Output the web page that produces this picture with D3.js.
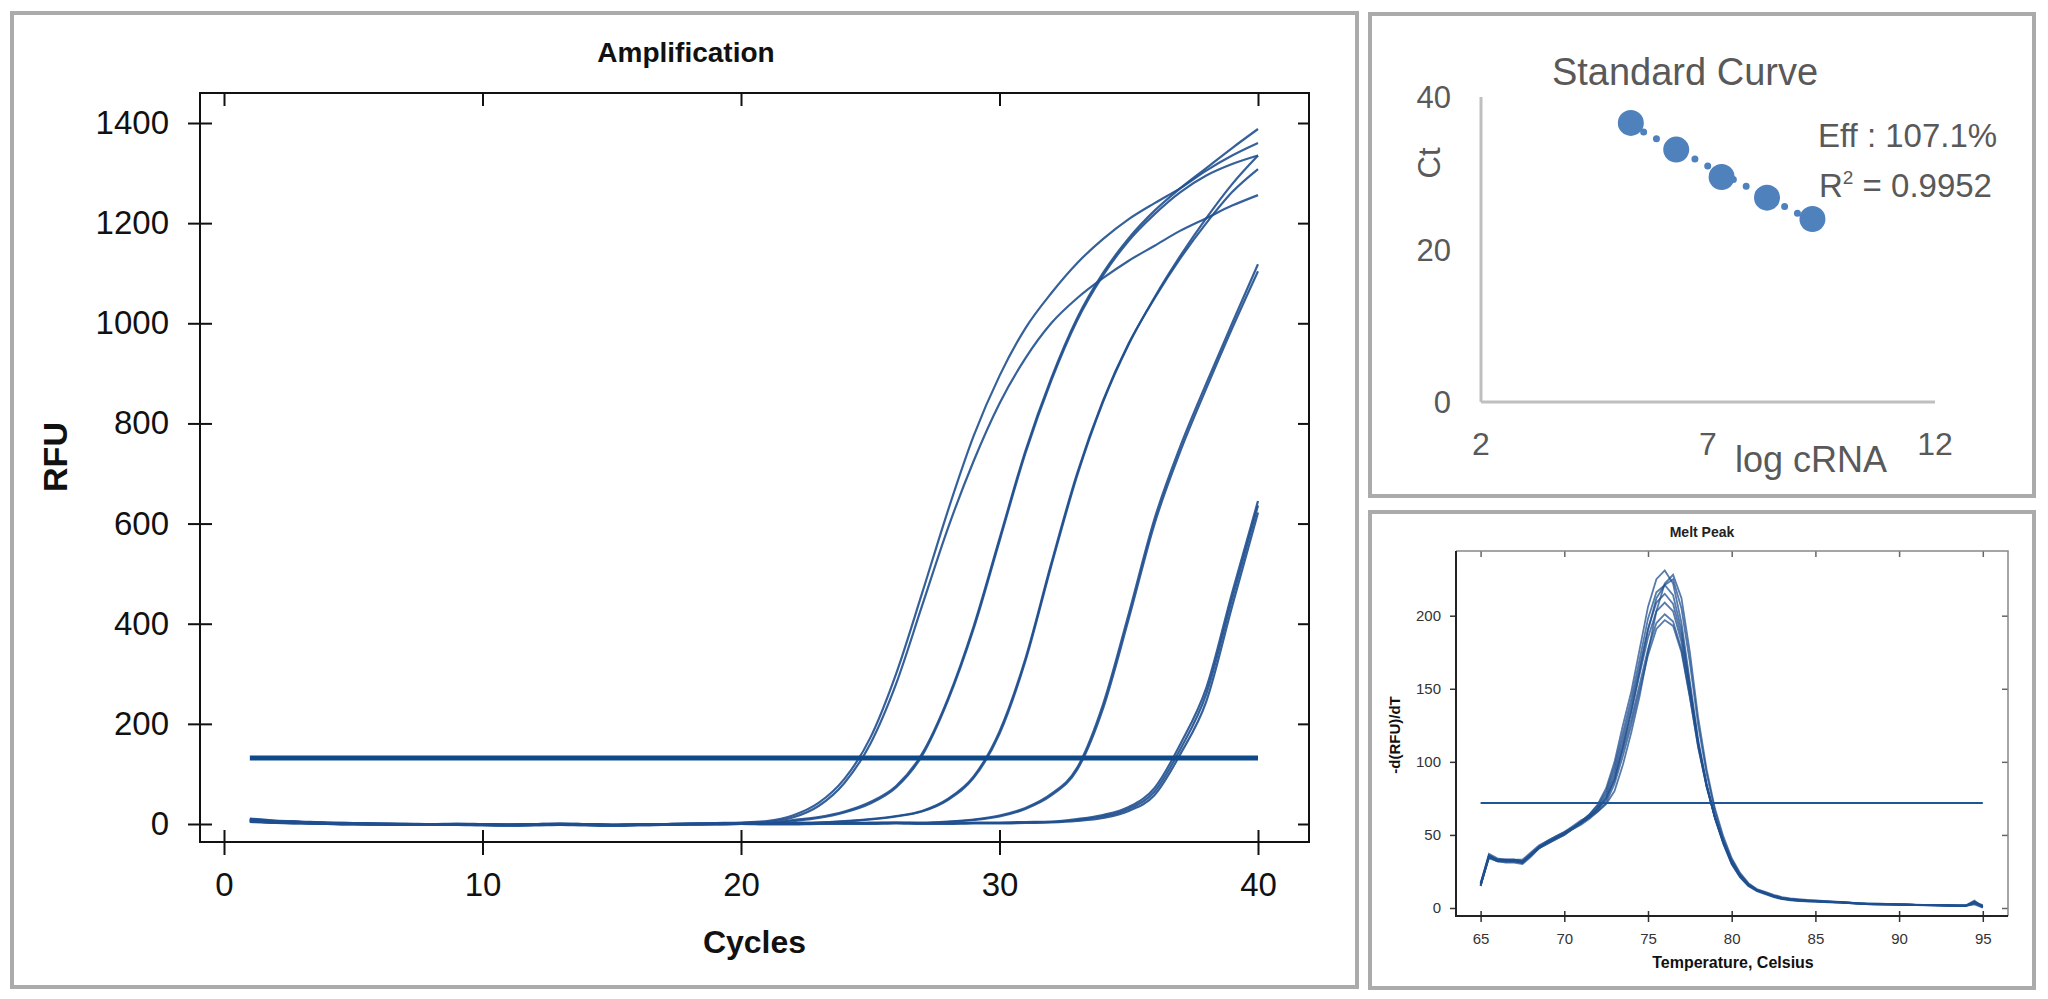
<!DOCTYPE html>
<html>
<head>
<meta charset="utf-8">
<script src="https://cdn.jsdelivr.net/npm/d3@7"></script>
<style>
    html, body { margin: 0; padding: 0; background: #fff; }
    svg { display: block; }
    text { font-family: "Liberation Sans", Arial, sans-serif; }
</style>
</head>
<body>
<svg id="chart" width="2048" height="999"></svg>
<script>
'use strict';

// ---- amplification (RFU per cycle) ----
const cycles = [1, 2, 3, 4, 5, 6, 7, 8, 9, 10, 11, 12, 13, 14, 15, 16, 17, 18, 19, 20,
    21, 22, 23, 24, 25, 26, 27, 28, 29, 30, 31, 32, 33, 34, 35, 36, 37, 38, 39, 40];
const ampD1a = [9, 5, 3, 2, 1, 0, -1, -1, 0, -1, -2, -1, 0, -1, -2, -1, 0, 1, 2, 3,
    6, 17, 42, 90, 172, 300, 460, 625, 775, 895, 990, 1060, 1120, 1168, 1208, 1240, 1270, 1305, 1335, 1360];
const ampD1b = [6, 4, 2, 1, 0, -1, -2, -1, -1, -2, -3, -2, -1, -2, -3, -2, -1, 0, 1, 2,
    4, 13, 36, 82, 160, 280, 435, 590, 725, 840, 930, 1000, 1050, 1090, 1125, 1155, 1185, 1210, 1235, 1256];
const ampD2a = [10, 6, 4, 3, 2, 1, 0, 0, 1, 0, -1, 0, 1, 0, -1, 0, 0, 1, 1, 2,
    2, 8, 14, 25, 44, 76, 140, 250, 395, 570, 745, 890, 1010, 1100, 1170, 1225, 1270, 1310, 1350, 1388];
const ampD2b = [5, 3, 2, 1, 0, -1, -1, -2, -1, -2, -3, -2, -1, -2, -3, -2, -1, -1, 0, 1,
    1, 6, 12, 23, 41, 73, 136, 246, 390, 565, 740, 885, 1005, 1095, 1165, 1218, 1262, 1295, 1318, 1335];
const ampD3a = [7, 4, 3, 2, 1, 0, 0, -1, -1, -1, -2, -2, -1, -1, -2, -2, -1, 0, 0, 1,
    1, 2, 3, 6, 10, 16, 26, 50, 95, 185, 330, 520, 700, 845, 960, 1050, 1130, 1200, 1262, 1308];
const ampD3b = [4, 2, 1, 0, -1, -1, -2, -2, -2, -3, -3, -2, -2, -3, -3, -2, -2, -1, -1, 0,
    1, 2, 3, 5, 9, 15, 25, 48, 92, 180, 325, 515, 695, 842, 958, 1052, 1135, 1210, 1278, 1335];
const ampD4a = [8, 5, 3, 2, 1, 1, 0, 0, -1, 0, -1, -1, 0, -1, -2, -1, -1, 0, 1, 1,
    1, 1, 2, 2, 3, 3, 3, 5, 9, 17, 32, 60, 112, 238, 420, 610, 755, 880, 1000, 1118];
const ampD4b = [5, 3, 1, 0, -1, -1, -2, -2, -1, -2, -2, -3, -2, -2, -3, -2, -1, -1, 0, 0,
    0, 1, 1, 2, 2, 2, 2, 4, 8, 15, 30, 57, 108, 230, 410, 600, 745, 870, 990, 1104];
const ampD5a = [9, 6, 4, 2, 1, 0, 0, 0, -1, -1, -1, 0, 0, -1, -2, -2, -1, 0, 0, 1,
    0, 0, 1, 1, 1, 2, 1, 1, 2, 2, 3, 4, 8, 15, 30, 65, 150, 260, 450, 636];
const ampD5b = [6, 3, 2, 1, 0, -1, -1, -2, -2, -2, -3, -2, -1, -2, -3, -3, -2, -1, -1, 0,
    -1, -1, 0, 0, 0, 1, 0, 0, 1, 1, 2, 3, 6, 12, 26, 58, 140, 245, 435, 622];
const ampD5c = [11, 7, 5, 3, 2, 1, 1, 0, 0, 0, -1, 0, 1, 0, -1, -1, 0, 1, 1, 2,
    1, 1, 2, 2, 2, 3, 2, 2, 3, 3, 4, 5, 10, 18, 34, 72, 160, 272, 462, 645];
const ampCurves = [ampD1a, ampD1b, ampD2a, ampD2b, ampD3a, ampD3b, ampD4a, ampD4b, ampD5a, ampD5b, ampD5c];
const ampThreshold = 132;
const ampXTicks = [0, 10, 20, 30, 40];
const ampYTicks = [0, 200, 400, 600, 800, 1000, 1200, 1400];

// ---- standard curve ----
const logCRNA = [5.3, 6.3, 7.3, 8.3, 9.3];
const ctValues = [36.6, 33.1, 29.5, 26.8, 24.0];
const stdXTicks = [2, 7, 12];
const stdYTicks = [0, 20, 40];
const effLabel = 'Eff : 107.1%';
const r2Label = '0.9952';

// ---- melt peak (-d(RFU)/dT per temperature) ----
const meltTemps = [65, 65.5, 66, 66.5, 67, 67.5, 68, 68.5, 69, 69.5, 70, 70.5, 71, 71.5, 72, 72.5,
    73, 73.5, 74, 74.5, 75, 75.5, 76, 76.5, 77, 77.5, 78, 78.5, 79, 79.5, 80, 80.5, 81, 81.5,
    82, 82.5, 83, 83.5, 84, 84.5, 85, 85.5, 86, 86.5, 87, 87.5, 88, 88.5, 89, 89.5, 90, 90.5,
    91, 91.5, 92, 92.5, 93, 93.5, 94, 94.5, 95];
const meltC1 = [16, 36, 33, 33, 33, 32, 37, 42, 45, 48, 51, 55, 59,
    64, 71, 82, 100, 125, 148, 177, 206, 225, 231, 222, 195, 155, 115, 85, 62, 44, 30, 21, 15, 12,
    10, 8, 6.5, 6, 5.5, 5, 4.8, 4.5, 4.2, 4, 3.6, 3.2, 3, 2.8, 2.8, 2.6, 2.5, 2.4, 2.2, 2, 2, 1.8, 1.7, 1.6, 1.6, 4, 1];
const meltC2 = [15, 35, 32, 32, 32, 31, 36, 41, 45, 48, 51, 54, 58,
    62, 66, 71, 80, 98, 120, 145, 175, 203, 222, 228, 212, 175, 130, 95, 68, 49, 34, 24, 17, 13,
    11, 9, 7.5, 6.5, 6, 5.5, 5.2, 4.8, 4.5, 4.2, 3.8, 3.4, 3.1, 3, 2.9, 2.7, 2.6, 2.5, 2.3, 2.2, 2.1, 2, 1.9, 1.8, 1.8, 5, 0.5];
const meltC3 = [17, 37, 34, 33, 33, 33, 38, 43, 46, 49, 52, 55, 59,
    63, 68, 75, 88, 110, 135, 162, 190, 212, 221, 225, 205, 168, 125, 92, 66, 47, 33, 23, 16, 12.5,
    10.5, 8.5, 7, 6, 5.5, 5.2, 5, 4.6, 4.3, 4, 3.7, 3.3, 3, 2.9, 2.8, 2.6, 2.5, 2.4, 2.2, 2.1, 2, 1.9, 1.8, 1.7, 1.7, 3.5, 1.2];
const meltC4 = [16, 35, 33, 32, 32, 31, 36, 42, 45, 48, 51, 55, 59,
    64, 70, 80, 97, 120, 143, 170, 198, 216, 221, 214, 190, 152, 113, 84, 61, 44, 30, 21, 15, 11.5,
    9.5, 7.5, 6, 5.2, 4.8, 4.5, 4.3, 4, 3.8, 3.6, 3.3, 3, 2.7, 2.5, 2.4, 2.3, 2.2, 2.1, 2, 1.9, 1.8, 1.7, 1.6, 1.5, 1.5, 3, 0.8];
const meltC5 = [15, 36, 33, 33, 32, 32, 37, 42, 46, 49, 52, 56, 60,
    63, 69, 78, 94, 116, 139, 165, 191, 209, 215, 208, 186, 150, 112, 84, 62, 45, 31, 22, 16, 12,
    10, 8, 6.5, 5.8, 5.3, 5, 4.7, 4.4, 4.1, 3.9, 3.5, 3.1, 2.8, 2.7, 2.6, 2.5, 2.4, 2.3, 2.1, 2, 1.9, 1.8, 1.7, 1.6, 1.6, 4.5, 1.5];
const meltC6 = [16, 34, 32, 31, 31, 30, 35, 41, 44, 47, 50, 54, 58,
    62, 68, 76, 91, 112, 134, 160, 185, 203, 209, 203, 182, 148, 112, 84, 62, 45, 31, 22, 16, 12,
    10, 8, 6.5, 5.5, 5, 4.6, 4.4, 4.1, 3.9, 3.7, 3.4, 3, 2.6, 2.4, 2.4, 2.3, 2.2, 2.1, 2, 1.8, 1.7, 1.6, 1.5, 1.4, 1.4, 2.5, 0.3];
const meltC7 = [17, 36, 33, 33, 33, 32, 36, 41, 45, 48, 51, 55, 58,
    62, 67, 74, 88, 108, 129, 153, 177, 195, 201, 196, 177, 145, 110, 83, 62, 45, 31, 22, 16, 12,
    10, 8, 6.5, 5.6, 5.1, 4.8, 4.5, 4.2, 4, 3.8, 3.4, 3, 2.8, 2.6, 2.5, 2.4, 2.3, 2.2, 2.1, 2, 1.9, 1.8, 1.7, 1.6, 1.6, 3.8, 2];
const meltC8 = [15, 35, 32, 32, 32, 31, 36, 41, 44, 47, 50, 54, 57,
    61, 66, 72, 85, 104, 125, 149, 173, 191, 197, 193, 175, 144, 110, 83, 62, 46, 32, 23, 16.5, 12.5,
    10.5, 8.5, 7, 6, 5.4, 5, 4.7, 4.4, 4.2, 4, 3.6, 3.2, 2.9, 2.7, 2.6, 2.5, 2.4, 2.3, 2.2, 2.1, 2, 1.9, 1.8, 1.7, 1.7, 4.2, 0.6];
const meltCurves = [meltC1, meltC2, meltC3, meltC4, meltC5, meltC6, meltC7, meltC8];
const meltThreshold = 71.8;
const meltXTicks = [65, 70, 75, 80, 85, 90, 95];
const meltYTicks = [0, 50, 100, 150, 200];

const svg = d3.select('#chart');
const FONT = '"Liberation Sans", Arial, sans-serif';
const BLUE = '#1f4f8f';
const plain = d3.format('d');

svg.append('rect').attr('width', 2048).attr('height', 999).attr('fill', '#fff');

function panel(x, y, w, h){
    svg.append('rect')
        .attr('x', x).attr('y', y)
        .attr('width', w).attr('height', h)
        .attr('fill', '#fff')
        .attr('stroke', '#ababab')
        .attr('stroke-width', 4);
}

// styles a d3 axis group: no domain path, our font, tick thickness
function styleAxis(sel, size, color, tickWidth, showText){
    sel.attr('font-family', FONT).attr('font-size', size);
    sel.select('.domain').remove();
    sel.selectAll('.tick line').attr('stroke', color).attr('stroke-width', tickWidth);
    sel.selectAll('.tick text').attr('fill', color);
    if (!showText) sel.selectAll('.tick text').remove();
}

function drawAmplification(){
    const frame = { left: 200, right: 1309, top: 93, bottom: 842 };
    const x = d3.scaleLinear().domain([0, 40]).range([224, 1258]);
    const y = d3.scaleLinear().domain([0, 1400]).range([824, 123]);
    const g = svg.append('g');

    g.append('g').attr('transform', `translate(${frame.left},0)`)
        .call(d3.axisLeft(y).tickValues(ampYTicks).tickFormat(plain).tickSize(12).tickPadding(19))
        .call(s => styleAxis(s, 33, '#111', 2, true));
    g.append('g').attr('transform', `translate(${frame.left},0)`)
        .call(d3.axisRight(y).tickValues(ampYTicks).tickSize(12))
        .call(s => styleAxis(s, 33, '#111', 2, false));
    g.append('g').attr('transform', `translate(${frame.right},0)`)
        .call(d3.axisLeft(y).tickValues(ampYTicks).tickSize(11))
        .call(s => styleAxis(s, 33, '#111', 2, false));
    g.append('g').attr('transform', `translate(0,${frame.bottom})`)
        .call(d3.axisBottom(x).tickValues(ampXTicks).tickFormat(plain).tickSize(13).tickPadding(18))
        .call(s => styleAxis(s, 33, '#111', 2, true));
    g.append('g').attr('transform', `translate(0,${frame.bottom})`)
        .call(d3.axisTop(x).tickValues(ampXTicks).tickSize(12))
        .call(s => styleAxis(s, 33, '#111', 2, false));
    g.append('g').attr('transform', `translate(0,${frame.top})`)
        .call(d3.axisBottom(x).tickValues(ampXTicks).tickSize(13))
        .call(s => styleAxis(s, 33, '#111', 2, false));

    g.append('rect')
        .attr('x', frame.left).attr('y', frame.top)
        .attr('width', frame.right - frame.left).attr('height', frame.bottom - frame.top)
        .attr('fill', 'none').attr('stroke', '#111').attr('stroke-width', 2);

    const line = d3.line()
        .x((d, i) => x(cycles[i]))
        .y(d => y(d))
        .curve(d3.curveMonotoneX);

    g.append('g').selectAll('path')
        .data(ampCurves)
        .join('path')
        .attr('d', line)
        .attr('fill', 'none')
        .attr('stroke', BLUE)
        .attr('stroke-width', 2.2)
        .attr('stroke-opacity', 0.9);

    g.append('line')
        .attr('x1', x(cycles[0])).attr('x2', x(cycles[cycles.length - 1]))
        .attr('y1', y(ampThreshold)).attr('y2', y(ampThreshold))
        .attr('stroke', '#0e4a8a').attr('stroke-width', 5);

    g.append('text')
        .attr('x', 686).attr('y', 62)
        .attr('text-anchor', 'middle')
        .attr('font-size', 28).attr('font-weight', 'bold').attr('fill', '#111')
        .text('Amplification');

    g.append('text')
        .attr('x', (frame.left + frame.right) / 2).attr('y', 953)
        .attr('text-anchor', 'middle')
        .attr('font-size', 32).attr('font-weight', 'bold').attr('fill', '#111')
        .text('Cycles');

    g.append('text')
        .attr('transform', 'translate(67,457) rotate(-90)')
        .attr('text-anchor', 'middle')
        .attr('font-size', 34).attr('font-weight', 'bold').attr('fill', '#111')
        .text('RFU');
}

function drawStandardCurve(){
    const x = d3.scaleLinear().domain([2, 12]).range([1481, 1935]);
    const y = d3.scaleLinear().domain([0, 40]).range([402, 97]);
    const grey = '#595959';
    const g = svg.append('g');

    g.append('line')
        .attr('x1', x(2)).attr('x2', x(2)).attr('y1', y(40)).attr('y2', y(0))
        .attr('stroke', '#bfbfbf').attr('stroke-width', 3);
    g.append('line')
        .attr('x1', x(2)).attr('x2', x(12)).attr('y1', y(0)).attr('y2', y(0))
        .attr('stroke', '#bfbfbf').attr('stroke-width', 3);

    g.append('g').selectAll('text')
        .data(stdYTicks)
        .join('text')
        .attr('x', 1451).attr('y', d => y(d))
        .attr('dy', '0.36em')
        .attr('text-anchor', 'end')
        .attr('font-size', 31).attr('fill', grey)
        .text(d => d);

    g.append('g').selectAll('text')
        .data(stdXTicks)
        .join('text')
        .attr('x', d => x(d)).attr('y', 455)
        .attr('text-anchor', 'middle')
        .attr('font-size', 32).attr('fill', grey)
        .text(d => d);

    // linear trendline from the points
    const mx = d3.mean(logCRNA), my = d3.mean(ctValues);
    const slope = d3.sum(logCRNA, (v, i) => (v - mx) * (ctValues[i] - my)) /
        d3.sum(logCRNA, v => (v - mx) * (v - mx));
    const icpt = my - slope * mx;
    const x0 = d3.min(logCRNA), x1 = d3.max(logCRNA);
    g.append('line')
        .attr('x1', x(x0)).attr('y1', y(icpt + slope * x0))
        .attr('x2', x(x1)).attr('y2', y(icpt + slope * x1))
        .attr('stroke', '#4f81bd').attr('stroke-width', 7)
        .attr('stroke-linecap', 'round')
        .attr('stroke-dasharray', '0 14.5');

    g.append('g').selectAll('circle')
        .data(logCRNA)
        .join('circle')
        .attr('cx', d => x(d))
        .attr('cy', (d, i) => y(ctValues[i]))
        .attr('r', 13)
        .attr('fill', '#4f81bd');

    g.append('text')
        .attr('x', 1685).attr('y', 85)
        .attr('text-anchor', 'middle')
        .attr('font-size', 38).attr('fill', grey)
        .text('Standard Curve');

    g.append('text')
        .attr('x', 1818).attr('y', 147)
        .attr('font-size', 33).attr('fill', grey)
        .text(effLabel);

    const r2 = g.append('text')
        .attr('x', 1819).attr('y', 197)
        .attr('font-size', 33).attr('fill', grey);
    r2.append('tspan').text('R');
    r2.append('tspan').attr('dy', -13).attr('font-size', 19).text('2');
    r2.append('tspan').attr('dy', 13).text(' = ' + r2Label);

    g.append('text')
        .attr('transform', 'translate(1440,163) rotate(-90)')
        .attr('text-anchor', 'middle')
        .attr('font-size', 31).attr('fill', grey)
        .text('Ct');

    g.append('text')
        .attr('x', 1811).attr('y', 472)
        .attr('text-anchor', 'middle')
        .attr('font-size', 36).attr('fill', grey)
        .text('log cRNA');
}

function drawMeltPeak(){
    const frame = { left: 1456, right: 2008, top: 551, bottom: 916 };
    const x = d3.scaleLinear().domain([65, 95]).range([1480.6, 1982.8]);
    const y = d3.scaleLinear().domain([0, 200]).range([908, 615.7]);
    const g = svg.append('g');
    const dark = '#333';

    g.append('g').attr('transform', `translate(${frame.left},0)`)
        .call(d3.axisLeft(y).tickValues(meltYTicks).tickFormat(plain).tickSize(6).tickPadding(9))
        .call(s => styleAxis(s, 15, dark, 1.5, true));
    g.append('g').attr('transform', `translate(${frame.right},0)`)
        .call(d3.axisLeft(y).tickValues(meltYTicks).tickSize(6))
        .call(s => styleAxis(s, 15, '#666', 1.5, false));
    g.append('g').attr('transform', `translate(0,${frame.bottom})`)
        .call(d3.axisBottom(x).tickValues(meltXTicks).tickFormat(plain).tickSize(6).tickPadding(11))
        .call(s => styleAxis(s, 15, dark, 1.5, true));
    g.append('g').attr('transform', `translate(0,${frame.bottom})`)
        .call(d3.axisTop(x).tickValues(meltXTicks).tickSize(5))
        .call(s => styleAxis(s, 15, dark, 1.5, false));
    g.append('g').attr('transform', `translate(0,${frame.top})`)
        .call(d3.axisBottom(x).tickValues(meltXTicks).tickSize(6))
        .call(s => styleAxis(s, 15, '#666', 1.5, false));

    g.append('path')
        .attr('d', `M${frame.left},${frame.top}H${frame.right}V${frame.bottom}`)
        .attr('fill', 'none').attr('stroke', '#888').attr('stroke-width', 1.5);
    g.append('path')
        .attr('d', `M${frame.left},${frame.top}V${frame.bottom}H${frame.right}`)
        .attr('fill', 'none').attr('stroke', '#222').attr('stroke-width', 2);

    const line = d3.line()
        .x((d, i) => x(meltTemps[i]))
        .y(d => y(d));

    g.append('g').selectAll('path')
        .data(meltCurves)
        .join('path')
        .attr('d', line)
        .attr('fill', 'none')
        .attr('stroke', BLUE)
        .attr('stroke-width', 1.8)
        .attr('stroke-opacity', 0.75);

    g.append('line')
        .attr('x1', x(meltTemps[0])).attr('x2', x(meltTemps[meltTemps.length - 1]))
        .attr('y1', y(meltThreshold)).attr('y2', y(meltThreshold))
        .attr('stroke', '#1d5595').attr('stroke-width', 2);

    g.append('text')
        .attr('x', 1702).attr('y', 537)
        .attr('text-anchor', 'middle')
        .attr('font-size', 14).attr('font-weight', 'bold').attr('fill', '#222')
        .text('Melt Peak');

    g.append('text')
        .attr('x', 1733).attr('y', 968)
        .attr('text-anchor', 'middle')
        .attr('font-size', 16).attr('font-weight', 'bold').attr('fill', '#111')
        .text('Temperature, Celsius');

    g.append('text')
        .attr('transform', 'translate(1400,735) rotate(-90)')
        .attr('text-anchor', 'middle')
        .attr('font-size', 15).attr('font-weight', 'bold').attr('fill', '#111')
        .text('-d(RFU)/dT');
}

panel(12, 13, 1345, 974);
panel(1370, 14, 664, 482);
panel(1370, 512, 664, 476);

drawAmplification();
drawStandardCurve();
drawMeltPeak();
</script>
</body>
</html>
